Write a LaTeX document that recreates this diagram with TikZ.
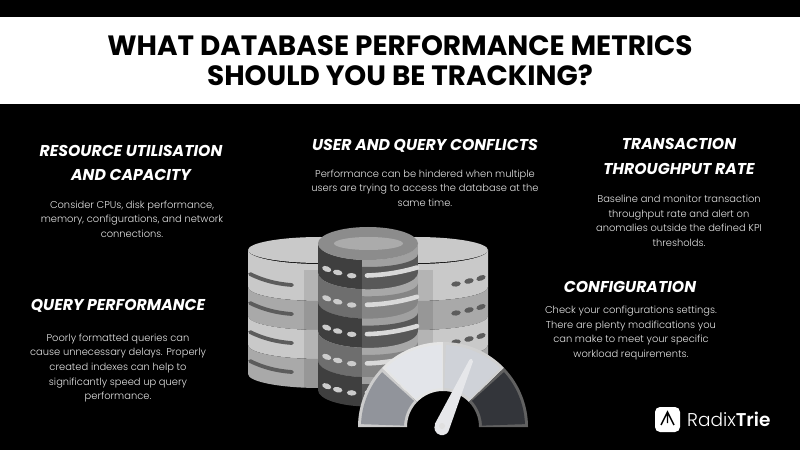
\documentclass[tikz,border=0pt]{standalone}
\usepackage{fontspec}
\setmainfont{Poppins}
\newfontfamily\lightfont{Poppins Light}
\usetikzlibrary{positioning}
\definecolor{slotgrey}{HTML}{5C5C5C}
\definecolor{backlight}{HTML}{C9C9C9}
\definecolor{backmid}{HTML}{A9A9A9}
\definecolor{gaugeleft}{HTML}{91949B}
\definecolor{gaugetop}{HTML}{E3E5EA}
\definecolor{gaugeright}{HTML}{CFD2D8}
\definecolor{gaugedark}{HTML}{33353A}
\definecolor{needlegrey}{HTML}{E6E7EA}
\newcommand{\band}[6]{\fill[#6] (#1-#2,#5) arc[start angle=180,end angle=360,x radius=#2,y radius=#3] -- (#1+#2,#4) arc[start angle=0,end angle=-180,x radius=#2,y radius=#3] -- cycle;}
\newcommand{\gaugepart}[5]{\fill[#5] (#1:#3) arc[start angle=#1,end angle=#2,radius=#3] -- (#2:#4) arc[start angle=#2,end angle=#1,radius=#4] -- cycle;}
\tikzset{
  heading/.style={font=\bfseries\itshape\fontsize{15.7}{24.5}\selectfont,text=white,align=center,inner sep=0},
  bodytext/.style={font=\lightfont\fontsize{9.9}{14.6}\selectfont,text=white!90!black,align=center,inner sep=0},
  slot/.style={line width=3.8,line cap=round,color=slotgrey},
}
\begin{document}
\begin{tikzpicture}[x=1pt,y=1pt]
  \useasboundingbox (0,0) rectangle (800,450);
  \fill[black] (0,0) rectangle (800,450);
  \fill[white] (0,346) rectangle (800,433);
  \node[font=\bfseries\fontsize{27.9}{30}\selectfont,align=center,inner sep=0] (title) at (400,389.5) {WHAT DATABASE PERFORMANCE METRICS\\SHOULD YOU BE TRACKING?};

  % texts
  \node[heading] (resource) at (131,287) {RESOURCE UTILISATION\\AND CAPACITY};
  \node[bodytext] (resourcetext) at (132,231) {Consider CPUs, disk performance,\\memory, configurations, and network\\connections.};
  \node[heading] (conflicts) at (425,304) {USER AND QUERY CONFLICTS};
  \node[bodytext] (conflictstext) at (425,262) {Performance can be hindered when multiple\\users are trying to access the database at the\\same time.};
  \node[heading] (throughput) at (679,293.5) {TRANSACTION\\THROUGHPUT RATE};
  \node[bodytext] (throughputtext) at (679,229) {Baseline and monitor transaction\\throughput rate and alert on\\anomalies outside the defined KPI\\thresholds.};
  \node[heading] (query) at (118,144) {QUERY PERFORMANCE};
  \node[bodytext] (querytext) at (118,82) {Poorly formatted queries can\\cause unnecessary delays. Properly\\created indexes can help to\\significantly speed up query\\performance.};
  \node[heading] (config) at (630,163) {CONFIGURATION};
  \node[bodytext] (configtext) at (631,117) {Check your configurations settings.\\There are plenty modifications you\\can make to meet your specific\\workload requirements.};

  % back left cylinder
  \fill[backlight] (320,200) ellipse [x radius=72,y radius=13];
  \band{320}{72}{14}{200}{163}{backlight}
  \band{320}{72}{14}{163}{134}{backmid}
  \band{320}{72}{14}{134}{105}{backlight}
  \band{320}{72}{14}{105}{76}{backmid}
  \begin{scope}
    \clip (248,180) -- (248,76) arc[start angle=180,end angle=360,x radius=72,y radius=14] -- (392,180) -- cycle;
    \fill[black,opacity=.1] (304,180) rectangle (340,50);
  \end{scope}
  \foreach \k in {0,...,3}
    \draw[slot,yshift=-29*\k] (250,176) .. controls (262,170) and (276,166) .. (292,165);

  % back right cylinder
  \fill[backlight] (416,200) ellipse [x radius=72,y radius=13];
  \band{416}{72}{14}{200}{163}{backlight}
  \band{416}{72}{14}{163}{134}{backmid}
  \band{416}{72}{14}{134}{105}{backlight}
  \band{416}{72}{14}{105}{76}{backmid}
  \begin{scope}
    \clip (344,180) -- (344,76) arc[start angle=180,end angle=360,x radius=72,y radius=14] -- (488,180) -- cycle;
    \fill[black,opacity=.1] (400,180) rectangle (433,50);
  \end{scope}
  \foreach \k in {0,...,2}
    \foreach \dx/\dy/\rot in {456/166/8,469/169/12,481/172/20}
      \fill[slotgrey,yshift=-29*\k] (\dx,\dy) ellipse [x radius=4.8,y radius=2.6,rotate=\rot];

  % front cylinder
  \begin{scope}
    \clip (318,206.5) -- (318,59.5) arc[start angle=180,end angle=360,x radius=50,y radius=16.5] -- (418,206.5) -- cycle;
    \begin{scope}
      \clip (318,30) rectangle (362,210);
      \foreach \k/\col in {0/3F3F3F,1/6E6E6E,2/3F3F3F,3/6E6E6E,4/3F3F3F} {
        \definecolor{bandcol}{HTML}{\col}
        \band{368}{50}{16.5}{206.5-29.3*\k}{177.2-29.3*\k}{bandcol}
      }
    \end{scope}
    \begin{scope}
      \clip (362,30) rectangle (418,210);
      \foreach \k/\stripcol/\col in {0/A0A0A0/585858,1/A8A8A8/858585,2/A0A0A0/585858,3/A8A8A8/858585,4/A0A0A0/585858} {
        \definecolor{stripcol}{HTML}{\stripcol}
        \definecolor{bandcol}{HTML}{\col}
        \band{368}{50}{16.5}{206.5-29.3*\k}{177.2-29.3*\k}{stripcol}
        \band{368}{50}{13}{196-29.3*\k}{173-29.3*\k}{bandcol}
      }
    \end{scope}
  \end{scope}
  \foreach \k in {0,...,4}
    \draw[line width=4.6,line cap=round,color=white!85!black,yshift=-29.3*\k] (367,174.5) .. controls (385,175) and (402,178) .. (417,182.5);
  \foreach \k in {0,...,4}
    \foreach \dx/\dy/\rot in {326.7/181/-22,337.7/177.5/-12,351.7/174.3/-4}
      \fill[white!80!black,yshift=-29.3*\k] (\dx,\dy) ellipse [x radius=4.8,y radius=2.7,rotate=\rot];
  \fill[black!45] (368,206.5) ellipse [x radius=50,y radius=16.5];
  \fill[black!33] (368.5,206.5) ellipse [x radius=34.5,y radius=6.5];

  % gauge
  \begin{scope}[shift={(443,23)}]
    \gaugepart{180}{136}{85}{36}{black!20}
    \gaugepart{136}{90}{85}{36}{black!10}
    \gaugepart{90}{44}{85}{36}{black!18}
    \gaugepart{44}{0}{85}{36}{black!62}
    \gaugepart{178}{138}{82}{39}{gaugeleft}
    \gaugepart{134}{91}{82}{39}{gaugetop}
    \gaugepart{88}{46}{82}{39}{gaugeright}
    \gaugepart{42}{2}{82}{39}{gaugedark}
  \end{scope}
  \fill[needlegrey] (434.8,26) -- (469.3,90) arc[start angle=150,end angle=-20,radius=2] -- (449.3,21) arc[start angle=-10,end angle=-205,radius=7.5] -- cycle;
  \fill[white!88!black] (442,24) circle (3);

  % logo
  \fill[white,rounded corners=5] (655,18) rectangle (680,43);
  \draw[black,line width=1.4] (661,25) -- (667.5,38) -- (674,25) (667.5,38) -- (667.5,27);
  \node[font=\lightfont\fontsize{18.5}{19}\selectfont,text=white,inner sep=0,anchor=west] (logotext) at (687,30.5) {Radix\textbf{Trie}};
\end{tikzpicture}
\end{document}
